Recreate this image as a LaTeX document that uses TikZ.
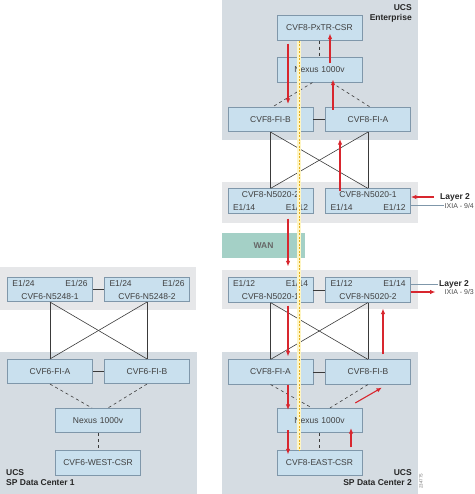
\documentclass[tikz,border=0pt]{standalone}
\usepackage{fontspec}
\setmainfont{Liberation Sans}
\usetikzlibrary{arrows.meta}
\usetikzlibrary{calc}

\definecolor{ucsbg}{HTML}{D5DCE2}
\definecolor{bandbg}{HTML}{E6E7E9}
\definecolor{boxfill}{HTML}{C9E0EE}
\definecolor{boxline}{HTML}{7F97AA}
\definecolor{wanfill}{HTML}{A4D0C6}
\definecolor{flowred}{HTML}{D8262E}
\definecolor{linkgray}{HTML}{3A3A3A}
\definecolor{pathyellow}{HTML}{E3AE1E}
\definecolor{pathcream}{HTML}{FFF6C4}

\newcommand{\ports}[2]{#1\hskip 0pt plus 1fill #2}

\begin{document}
\begin{tikzpicture}[x=1pt,y=-1pt]
			\tikzset{dev/.style={draw = boxline, fill = boxfill, line width = 0.6pt,
					text width = 75pt, inner xsep = 5pt, inner ysep = 0pt,
					minimum height = 24.5pt, align = center, text = black!75,
					font = \fontsize{8.5}{13}\selectfont}}
			\tikzset{wanbox/.style={fill = wanfill, minimum width = 83pt, minimum height = 25pt,
					inner sep = 0pt, text = black!60, font = \bfseries\fontsize{8.5}{10}\selectfont}}
			\tikzset{tag/.style={inner sep = 1pt, text = black!85,
					font = \bfseries\fontsize{8.5}{10}\selectfont}}
			\tikzset{ixia/.style={inner sep = 1pt, text = black!70,
					font = \fontsize{7}{9}\selectfont}}
			\tikzset{link/.style={draw = linkgray, line width = 0.6pt}}
			\tikzset{vlan/.style={draw = linkgray, line width = 0.6pt, dashed}}
			\tikzset{tap/.style={draw = boxline, line width = 0.7pt}}
			\tikzset{flow/.style={draw = flowred, line width = 1.1pt,
					-{Latex[length = 5.5pt, width = 4.5pt]}}}
			\tikzset{trace/.style={draw = pathyellow, line width = 1pt,
					dash pattern = on 2pt off 1.5pt,
					preaction = {draw = pathcream, line width = 3.6pt, solid}}}
			%areas
			\useasboundingbox (0,0) rectangle (474,494);
			\fill[ucsbg] (222,0) rectangle (418,140);
			\fill[ucsbg] (222,352) rectangle (418,494);
			\fill[ucsbg] (0,352) rectangle (197,494);
			\fill[bandbg] (222,182) rectangle (418,223);
			\fill[bandbg] (222,270) rectangle (418,309);
			\fill[bandbg] (0,267) rectangle (196,310);
			%enterprise
			\node[dev] (pxtr) at (319.5, 28) {CVF8-PxTR-CSR};
			\node[dev] (nexE) at (319.5, 70) {Nexus 1000v};
			\node[dev] (fibE) at (270.5, 119.5) {CVF8-FI-B};
			\node[dev] (fiaE) at (368, 119.5) {CVF8-FI-A};
			\node[dev] (nkE) at (270.5, 201) {CVF8-N5020-2\\\ports{E1/14}{E1/12}};
			\node[dev] (njE) at (368, 201) {CVF8-N5020-1\\\ports{E1/14}{E1/12}};
			\node[wanbox] (wan) at (263.5, 245.5) {WAN};
			%data center 2
			\node[dev] (naL) at (270.5, 290) {\ports{E1/12}{E1/14}\\CVF8-N5020-1};
			\node[dev] (nbL) at (368, 290) {\ports{E1/12}{E1/14}\\CVF8-N5020-2};
			\node[dev] (fia2) at (270.5, 372) {CVF8-FI-A};
			\node[dev] (fib2) at (368, 372) {CVF8-FI-B};
			\node[dev] (nex2) at (319.5, 420.5) {Nexus 1000v};
			\node[dev] (east) at (319.5, 463) {CVF8-EAST-CSR};
			%data center 1
			\node[dev] (nsa) at (50, 289.5) {\ports{E1/24}{E1/26}\\CVF6-N5248-1};
			\node[dev] (nsb) at (147, 289.5) {\ports{E1/24}{E1/26}\\CVF6-N5248-2};
			\node[dev] (fia1) at (50, 371.5) {CVF6-FI-A};
			\node[dev] (fib1) at (147, 371.5) {CVF6-FI-B};
			\node[dev] (nex1) at (98, 420.5) {Nexus 1000v};
			\node[dev] (west) at (98, 463) {CVF6-WEST-CSR};
			%labels
			\node[tag, anchor = east, align = right] (entlbl) at (413, 13) {UCS\\Enterprise};
			\node[tag, anchor = east, align = right] (dc2lbl) at (413, 478) {UCS\\SP Data Center 2};
			\node[tag, anchor = west, align = left] (dc1lbl) at (5, 478) {UCS\\SP Data Center 1};
			\node[tag, anchor = west] (l2a) at (439, 197) {Layer 2};
			\node[ixia, anchor = west] (ixa) at (443.5, 205.5) {IXIA - 9/4};
			\node[tag, anchor = west] (l2b) at (438, 284) {Layer 2};
			\node[ixia, anchor = west] (ixb) at (443.5, 292) {IXIA - 9/3};
			\node[rotate = 90, inner sep = 0pt, text = black!55,
				font = \fontsize{4.5}{5}\selectfont] (figno) at (421, 481) {234775};
			%edges
			\path[link] (fibE.east) edge (fiaE.west);
			\path[link] (fibE.south) edge (nkE.north) edge (njE.north);
			\path[link] (fiaE.south) edge (njE.north) edge (nkE.north);
			\path[link] (naL.east) edge (nbL.west);
			\path[link] (naL.south) edge (fia2.north) edge (fib2.north);
			\path[link] (nbL.south) edge (fib2.north) edge (fia2.north);
			\path[link] (fia2.east) edge (fib2.west);
			\path[link] (nsa.east) edge (nsb.west);
			\path[link] (nsa.south) edge (fia1.north) edge (fib1.north);
			\path[link] (nsb.south) edge (fib1.north) edge (fia1.north);
			\path[link] (fia1.east) edge (fib1.west);
			\path[vlan] (pxtr.south) edge (nexE.north);
			\path[vlan] ($(nexE.south)+(-7,0)$) edge ($(fibE.north)+(2,0)$);
			\path[vlan] ($(nexE.south)+(12,0)$) edge ($(fiaE.north)+(2,0)$);
			\path[vlan] (fia2.south) edge ($(nex2.north)+(-7.5,0)$);
			\path[vlan] (fib2.south) edge ($(nex2.north)+(10.5,0)$);
			\path[vlan] (nex2.south) edge (east.north);
			\path[vlan] (fia1.south) edge ($(nex1.north)+(-6,0)$);
			\path[vlan] (fib1.south) edge ($(nex1.north)+(10,0)$);
			\path[vlan] (nex1.south) edge (west.north);
			\path[tap] (ixa.west -| njE.east) edge (ixa.west);
			\path[tap] (l2b.west -| nbL.east) edge (l2b.west);
			%traffic
			\draw[trace] ($(pxtr.south)+(-20.5,0)$) -- ($(east.north)+(-20.5,0)$);
			\draw[flow] ($(pxtr.south)+(-31.5,3)$) -- ($(fibE.north)+(17.5,-3)$);
			\draw[flow] ($(nexE.north)+(10.5,6)$) -- ($(pxtr.south)+(10.5,-7)$);
			\draw[flow] ($(fiaE.north)+(-35,3)$) -- ($(nexE.south)+(13.5,-3)$);
			\draw[flow] ($(njE.north)+(-28,3)$) -- ($(fiaE.south)+(-28,7)$);
			\draw[flow] ($(nkE.south)+(17.5,5)$) -- ($(naL.north)+(17.5,-11)$);
			\draw[flow] ($(naL.south)+(17.5,3)$) -- ($(fia2.north)+(17.5,-3)$);
			\draw[flow] ($(fia2.south)+(17.5,0)$) -- ($(nex2.north)+(-31.5,2)$);
			\draw[flow] ($(nex2.south)+(-31.5,-3)$) -- ($(east.north)+(-31.5,4)$);
			\draw[flow] ($(east.north)+(31.5,-3)$) -- ($(nex2.south)+(31.5,-5)$);
			\draw[flow] ($(nex2.north east)+(-7,-5)$) -- ($(fib2.south)+(14,3)$);
			\draw[flow] ($(fib2.north)+(15,-5)$) -- ($(nbL.south)+(15,6)$);
			\draw[flow, shorten <= 5pt] (l2a.west) -- (l2a.west -| njE.east);
			\draw[flow, shorten >= 8pt] (ixb.west -| nbL.east) -- (ixb.west);
			\end{tikzpicture}
\end{document}
